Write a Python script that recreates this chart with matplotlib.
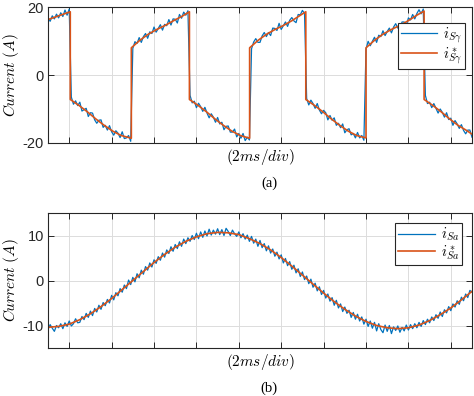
import numpy as np
import matplotlib
matplotlib.use("Agg")
import matplotlib.pyplot as plt

plt.rcParams['font.family'] = ['Liberation Sans', 'DejaVu Sans']
plt.rcParams['mathtext.fontset'] = 'cm'

# time axis in ms (2 ms per division)
t_meas = np.arange(201) * 0.1 - 1.0

# (a) gamma-axis current: measured (blue) and reference (orange)
i_sg = [
    16.9, 15.8, 17.4, 16.5, 17.9, 16.8, 18.3, 17.2, 19.1, 17.6, 19.4,
    -6.5, -8.6, -7.6, -9.0, -8.0, -10.6, -10.2, -9.8, -12.2, -11.1,
    -11.2, -13.2, -14.2, -13.3, -13.2, -15.4, -14.8, -16.2, -14.9, -16.7,
    -17.7, -16.4, -17.1, -18.4, -16.7, -18.7, -18.5, -17.8, -19.5,
    7.8, 9.8, 9.3, 11.0, 9.6, 11.3, 12.2, 10.8, 12.7, 12.2,
    14.1, 12.6, 13.7, 14.8, 13.2, 14.9, 14.5, 16.3, 14.7, 16.5,
    16.4, 15.3, 17.8, 16.7, 18.5, 17.6, 18.9,
    -6.0, -8.2, -7.7, -9.6, -8.3, -9.3, -10.7, -9.5, -11.2, -12.6,
    -11.4, -12.4, -13.9, -12.5, -14.4, -13.9, -16.1, -15.1, -15.0, -16.8,
    -16.8, -15.9, -18.2, -17.2, -18.6, -17.2, -19.3, -18.3, -19.1,
    7.7, 9.7, 10.7, 9.6, 9.6, 11.5, 12.5, 11.3, 12.5, 11.6,
    13.8, 13.7, 13.1, 15.2, 13.4, 14.5, 15.6, 14.3, 16.1, 16.9,
    15.9, 15.4, 17.8, 17.7, 19.0, 18.1,
    -6.9, -8.8, -7.4, -8.4, -9.8, -8.4, -10.3, -11.4, -10.4, -11.1,
    -13.2, -11.9, -13.3, -12.6, -14.8, -14.2, -15.5, -14.4, -17.0, -16.1,
    -15.8, -17.6, -17.2, -18.5, -16.9, -18.5, -17.8, -19.2,
    7.6, 9.9, 8.6, 9.9, 11.1, 9.6, 11.7, 11.3, 13.0, 11.6,
    12.8, 13.8, 12.4, 14.1, 15.1, 13.8, 13.7, 15.6, 15.6, 14.5,
    16.8, 16.2, 17.8, 16.5, 18.1, 19.2, 18.0, 19.4,
    -6.0, -8.4, -8.0, -9.6, -8.4, -9.8, -11.2, -10.0, -11.0, -12.4,
    -11.1, -13.1, -12.7, -14.8, -13.4, -14.4, -15.7, -14.6, -16.3, -17.3,
    -16.2, -16.2, -18.3,
]

t_ref_a = [
    -1.0, -0.5, 0.05,
    0.05, 0.45, 0.85, 1.25, 1.65, 2.05, 2.45, 2.93,
    2.93, 3.33, 3.73, 4.13, 4.53, 4.93, 5.33, 5.67,
    5.67, 6.07, 6.47, 6.87, 7.27, 7.67, 8.07, 8.51,
    8.51, 8.91, 9.31, 9.71, 10.11, 10.51, 10.91, 11.16,
    11.16, 11.56, 11.96, 12.36, 12.76, 13.16, 13.56, 14.0,
    14.0, 14.4, 14.8, 15.2, 15.6, 16.0, 16.4, 16.74,
    16.74, 17.14, 17.54, 17.94, 18.34, 18.74, 19.0,
]
i_sg_ref = [
    16.3, 17.4, 18.6,
    -7.2, -8.9, -10.8, -12.9, -14.8, -16.5, -17.8, -18.6,
    8.0, 10.2, 12.0, 13.4, 14.6, 16.0, 17.3, 18.6,
    -7.2, -8.9, -10.8, -12.9, -14.8, -16.5, -17.8, -18.6,
    8.0, 10.2, 12.0, 13.4, 14.6, 16.0, 17.6, 18.6,
    -7.2, -8.9, -10.8, -12.9, -14.8, -16.5, -17.8, -18.5,
    8.0, 10.2, 12.0, 13.4, 14.6, 16.0, 17.6, 18.8,
    -7.2, -8.9, -10.8, -12.9, -14.8, -16.3, -17.4,
]

# (b) phase-a current: measured (blue) and reference (orange)
i_sa = [
    -10.9, -9.8, -10.6, -11.3, -10.0, -10.5, -9.6, -10.7, -9.4, -10.2,
    -9.0, -10.1, -9.6, -8.5, -9.4, -9.3, -8.0, -8.7, -7.3, -8.2,
    -6.8, -7.8, -6.2, -7.0, -5.5, -6.4, -4.9, -5.6, -4.2, -5.0,
    -3.3, -4.3, -2.7, -3.4, -1.8, -2.6, -1.0, -1.8, 0.1, -0.9,
    0.7, -0.3, 1.5, 0.6, 2.3, 1.4, 3.1, 2.3, 3.9, 3.0,
    4.6, 3.8, 5.3, 4.5, 6.1, 5.2, 6.8, 6.0, 7.5, 6.5,
    8.0, 7.1, 8.6, 7.6, 9.2, 8.2, 9.5, 8.7, 10.0, 9.1,
    10.5, 9.3, 10.8, 9.6, 11.0, 9.9, 11.4, 10.1, 11.2, 10.3,
    11.5, 10.2, 11.3, 10.0, 11.6, 10.9, 10.0, 11.2, 10.4, 9.8,
    10.8, 9.5, 10.4, 9.2, 10.1, 8.7, 9.8, 8.3, 9.2, 7.6,
    8.9, 7.3, 8.2, 6.6, 7.7, 6.1, 7.0, 5.4, 6.3, 4.8,
    5.7, 3.9, 4.9, 3.3, 4.2, 2.5, 3.4, 1.7, 2.6, 0.9,
    1.9, 0.2, 1.0, -0.7, 0.3, -1.5, -0.6, -2.3, -1.4, -3.1,
    -2.2, -3.9, -3.0, -4.6, -3.8, -5.5, -4.4, -6.1, -5.2, -6.9,
    -5.9, -7.3, -6.6, -8.2, -7.1, -8.6, -7.5, -9.0, -8.1, -9.7,
    -8.6, -10.2, -9.0, -10.6, -9.3, -11.2, -9.6, -10.9, -11.6, -9.9,
    -11.3, -10.0, -11.8, -10.3, -11.1, -10.1, -11.5, -10.4, -11.2, -9.9,
    -11.0, -9.8, -10.7, -9.6, -10.5, -9.3, -10.2, -8.9, -9.8, -8.6,
    -9.4, -8.1, -8.9, -7.6, -8.4, -7.0, -8.0, -6.5, -7.2, -5.8,
    -6.7, -5.2, -5.9, -4.5, -5.3, -3.7, -4.5, -3.0, -3.8, -2.2,
    -2.6,
]

t_ref_b = np.arange(41) * 0.5 - 1.0
i_sa_ref = [
    -10.4, -10.2, -9.7, -8.7, -7.4, -5.8, -4.0, -2.0, 0.0, 2.0,
    4.0, 5.8, 7.4, 8.7, 9.7, 10.4, 10.7, 10.6, 10.2, 9.3,
    8.2, 6.8, 5.1, 3.2, 1.2, -0.8, -2.8, -4.7, -6.4, -7.9,
    -9.1, -10.0, -10.5, -10.7, -10.5, -9.9, -8.9, -7.6, -6.1, -4.3,
    -2.4,
]

x_ticks = np.arange(0, 19, 2)
blue = '#0072BD'
orange = '#D95319'

fig = plt.figure(figsize=(4.74, 3.96), dpi=100)
ax1 = fig.add_axes([0.1013, 0.6389, 0.8945, 0.3434])
ax2 = fig.add_axes([0.1013, 0.1212, 0.8945, 0.3409])


def style_axes(ax, yticks, ylim):
    ax.set_xlim(-1.0, 19.0)
    ax.set_ylim(*ylim)
    ax.set_xticks(x_ticks)
    ax.set_xticklabels([])
    ax.set_yticks(yticks)
    ax.set_yticklabels([str(v) for v in yticks])
    ax.tick_params(direction='in', length=4, width=0.7, top=True, right=True,
                   labelsize=10.5, colors='#262626', pad=3)
    ax.grid(True, color='#dcdcdc', linewidth=0.7)
    ax.set_axisbelow(True)
    for s in ax.spines.values():
        s.set_color('#262626')
        s.set_linewidth(0.8)
    ax.set_ylabel(r'$Current\ (A)$', fontsize=11, labelpad=1)
    ax.set_xlabel(r'$(2ms/div)$', fontsize=11, labelpad=0)


ax1.plot(t_meas, i_sg, color=blue, lw=0.9, label=r'$i_{S\gamma}$')
ax1.plot(t_ref_a, i_sg_ref, color=orange, lw=1.2, label=r'$i^*_{S\gamma}$')
style_axes(ax1, [-20, 0, 20], (-20, 20))

ax2.plot(t_meas, i_sa, color=blue, lw=0.9, label=r'$i_{Sa}$')
ax2.plot(t_ref_b, i_sa_ref, color=orange, lw=1.2, label=r'$i^*_{Sa}$')
style_axes(ax2, [-10, 0, 10], (-15, 15))

for ax, anchor in [(ax1, (0.983, 0.882)), (ax2, (0.976, 0.926))]:
    leg = ax.legend(loc='upper right', bbox_to_anchor=anchor, borderaxespad=0,
                    fontsize=10.5, handlelength=2.5, handletextpad=0.4,
                    fancybox=False, framealpha=1, edgecolor='#262626',
                    borderpad=0.2, labelspacing=0.0)
    leg.get_frame().set_linewidth(0.8)

fig.text(0.568, 0.538, '(a)', ha='center', va='center',
         family='Liberation Serif', fontsize=10.5)
fig.text(0.568, 0.02, '(b)', ha='center', va='center',
         family='Liberation Serif', fontsize=10.5)

fig.savefig('out.png', dpi=100)
